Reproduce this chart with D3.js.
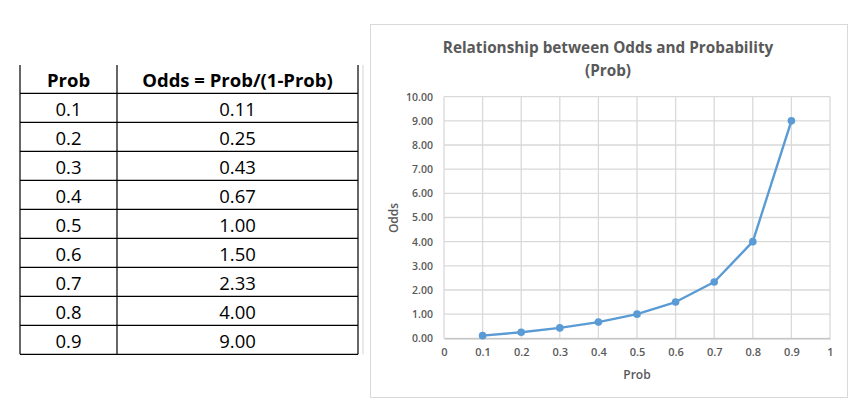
<!DOCTYPE html>
<html>
<head>
<meta charset="utf-8">
<script src="https://cdn.jsdelivr.net/npm/d3@7"></script>
<style>
  body { margin: 0; background: #fff; }
  svg { display: block; }
</style>
</head>
<body>
<svg width="864" height="408"></svg>
<script>
// Data
const probs = [0.1, 0.2, 0.3, 0.4, 0.5, 0.6, 0.7, 0.8, 0.9];
const oddsLabels = ['0.11', '0.25', '0.43', '0.67', '1.00', '1.50', '2.33', '4.00', '9.00'];
const odds = [0.11, 0.25, 0.43, 0.67, 1.00, 1.50, 2.33, 4.00, 9.00];
const headers = ['Prob', 'Odds = Prob/(1-Prob)'];
const xTicks = [0, 0.1, 0.2, 0.3, 0.4, 0.5, 0.6, 0.7, 0.8, 0.9, 1];
const yTicks = [0, 1, 2, 3, 4, 5, 6, 7, 8, 9, 10];

const font = '"Open Sans", Lato, sans-serif';
const svg = d3.select('svg');

// ---- Table ----
const tbl = {left: 20, mid: 117, right: 358, top: 65, headH: 28.3, rowH: 29};
const rows = probs.map((p, i) => [String(p), oddsLabels[i]]);

const table = svg.append('g').attr('font-family', font).attr('fill', '#000');

// light sheet gridline to the right of the table
table.append('line')
  .attr('x1', 363).attr('x2', 363).attr('y1', tbl.top).attr('y2', tbl.top + tbl.headH + rows.length * tbl.rowH)
  .attr('stroke', '#d4d4d4');

const rowY = i => tbl.top + tbl.headH + i * tbl.rowH;
const colX = [(tbl.left + tbl.mid) / 2, (tbl.mid + tbl.right) / 2];

headers.forEach((h, j) => {
  table.append('text')
    .attr('x', colX[j]).attr('y', tbl.top + 21.7)
    .attr('text-anchor', 'middle')
    .attr('font-weight', 'bold').attr('font-size', 18.5)
    .text(h);
});

rows.forEach((r, i) => {
  r.forEach((v, j) => {
    table.append('text')
      .attr('x', colX[j]).attr('y', rowY(i) + 22.7)
      .attr('text-anchor', 'middle')
      .attr('font-size', 18.5)
      .text(v);
  });
});

const bottom = rowY(rows.length);
d3.range(rows.length + 1).forEach(i => {
  table.append('line')
    .attr('x1', tbl.left).attr('x2', tbl.right)
    .attr('y1', rowY(i)).attr('y2', rowY(i))
    .attr('stroke', '#000').attr('stroke-width', 1.2);
});
[tbl.left, tbl.mid, tbl.right].forEach(x => {
  table.append('line')
    .attr('x1', x).attr('x2', x).attr('y1', tbl.top).attr('y2', bottom)
    .attr('stroke', '#000').attr('stroke-width', 1.2);
});

// ---- Chart ----
const box = {x: 370, y: 24, w: 477, h: 373};
svg.append('rect')
  .attr('x', box.x + 0.5).attr('y', box.y + 0.5)
  .attr('width', box.w).attr('height', box.h)
  .attr('fill', '#fff').attr('stroke', '#d9d9d9');

const plot = {left: 444, right: 830, top: 96.7, bottom: 338.3};

const x = d3.scaleLinear().domain([0, 1]).range([plot.left, plot.right]);
const y = d3.scaleLinear().domain([0, 10]).range([plot.bottom, plot.top]);

const chart = svg.append('g').attr('font-family', font);

// Grid
chart.append('g').selectAll('line').data(yTicks).join('line')
  .attr('x1', plot.left).attr('x2', plot.right)
  .attr('y1', d => y(d)).attr('y2', d => y(d))
  .attr('stroke', '#d9d9d9').attr('stroke-width', 1.3);

chart.append('g').selectAll('line').data(xTicks).join('line')
  .attr('x1', d => x(d)).attr('x2', d => x(d))
  .attr('y1', plot.top).attr('y2', plot.bottom)
  .attr('stroke', '#d9d9d9').attr('stroke-width', 1.3);

// Axes
const yAxis = d3.axisLeft(y).tickValues(yTicks).tickFormat(d3.format('.2f')).tickSize(0).tickPadding(11);
const xAxis = d3.axisBottom(x).tickValues(xTicks).tickFormat(d => d === 0 || d === 1 ? String(d) : d3.format('.1f')(d)).tickSize(0).tickPadding(10);

chart.append('g')
  .attr('transform', `translate(${plot.left},0)`)
  .call(yAxis)
  .call(g => g.select('.domain').remove())
  .call(g => g.selectAll('text').attr('fill', '#595959').attr('font-size', 10.5).attr('font-weight', 600).attr('font-family', font));

chart.append('g')
  .attr('transform', `translate(0,${plot.bottom})`)
  .call(xAxis)
  .call(g => g.select('.domain').attr('stroke', '#bfbfbf').attr('stroke-width', 1.3))
  .call(g => g.selectAll('text').attr('fill', '#595959').attr('font-size', 11).attr('font-weight', 600).attr('font-family', font));

// Title
const title = chart.append('text')
  .attr('text-anchor', 'middle')
  .attr('fill', '#595959').attr('font-size', 15.3).attr('font-weight', 'bold');
title.append('tspan').attr('x', 608).attr('y', 52.5).text('Relationship between Odds and Probability');
title.append('tspan').attr('x', 608).attr('y', 75.5).text('(Prob)');

// Axis titles
chart.append('text')
  .attr('x', 637).attr('y', 379)
  .attr('text-anchor', 'middle')
  .attr('fill', '#595959').attr('font-size', 12).attr('font-weight', 600)
  .text('Prob');

chart.append('text')
  .attr('transform', `translate(398,218) rotate(-90)`)
  .attr('text-anchor', 'middle')
  .attr('fill', '#595959').attr('font-size', 12).attr('font-weight', 600)
  .text('Odds');

// Series
const pts = probs.map((p, i) => [p, odds[i]]);
chart.append('path')
  .datum(pts)
  .attr('fill', 'none')
  .attr('stroke', '#5b9bd5').attr('stroke-width', 2.4)
  .attr('stroke-linejoin', 'round')
  .attr('d', d3.line().x(d => x(d[0])).y(d => y(d[1])));

chart.append('g').selectAll('circle').data(pts).join('circle')
  .attr('cx', d => x(d[0])).attr('cy', d => y(d[1]))
  .attr('r', 3.8)
  .attr('fill', '#5b9bd5');
</script>
</body>
</html>
